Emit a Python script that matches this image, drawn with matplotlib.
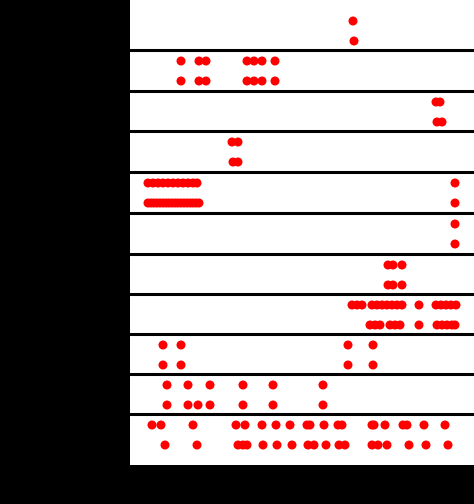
import matplotlib
matplotlib.use('Agg')
import matplotlib.pyplot as plt

# x positions of events in each strip (top line, bottom line)
rows_top = [
    [223],
    [51, 69, 76, 117, 124, 132, 145],
    [306, 310],
    [102, 108],
    [18, 23, 28, 33, 38, 43, 48, 53, 58, 63, 67, 325],
    [325],
    [258, 263, 272],
    [222, 227, 232, 242, 247, 252, 257, 262, 267, 272, 289, 306, 311, 316, 321, 326],
    [33, 51, 218, 243],
    [37, 58, 80, 113, 143, 193],
    [22, 31, 63, 106, 115, 132, 146, 160, 177, 180, 194, 208, 212, 242, 244, 255, 273, 277, 294, 315],
]
rows_bottom = [
    [224],
    [51, 69, 76, 117, 124, 132, 145],
    [307, 312],
    [103, 108],
    [18, 21, 24, 27, 30, 33, 36, 39, 42, 45, 48, 51, 54, 57, 60, 63, 66, 69, 325],
    [325],
    [258, 263, 272],
    [240, 245, 250, 260, 265, 270, 289, 307, 312, 317, 322, 325],
    [33, 51, 218, 243],
    [37, 58, 68, 80, 113, 143, 193],
    [35, 67, 108, 113, 117, 133, 147, 162, 178, 184, 196, 209, 215, 242, 248, 257, 279, 296, 318],
]
row_tops = [10, 50, 91, 131, 172, 213, 254, 294, 334, 374, 414]

fig = plt.figure(figsize=(4.74, 5.04), dpi=100, facecolor='black')
ax = fig.add_axes([130 / 474, 39 / 504, 344 / 474, 465 / 504])
ax.set_facecolor('white')

for t, top, bot in zip(row_tops, rows_top, rows_bottom):
    ax.scatter(top, [t + 11] * len(top), s=42, color='red', edgecolors='none', zorder=3)
    ax.scatter(bot, [t + 31] * len(bot), s=42, color='red', edgecolors='none', zorder=3)
for b in row_tops[1:]:
    ax.axhline(b, color='black', lw=2.2)

ax.set_xlim(0, 344)
ax.set_ylim(465, 0)
ax.set_xticks([])
ax.set_yticks([])
for s in ax.spines.values():
    s.set_visible(False)

fig.savefig('out.png', dpi=100, facecolor='black')
